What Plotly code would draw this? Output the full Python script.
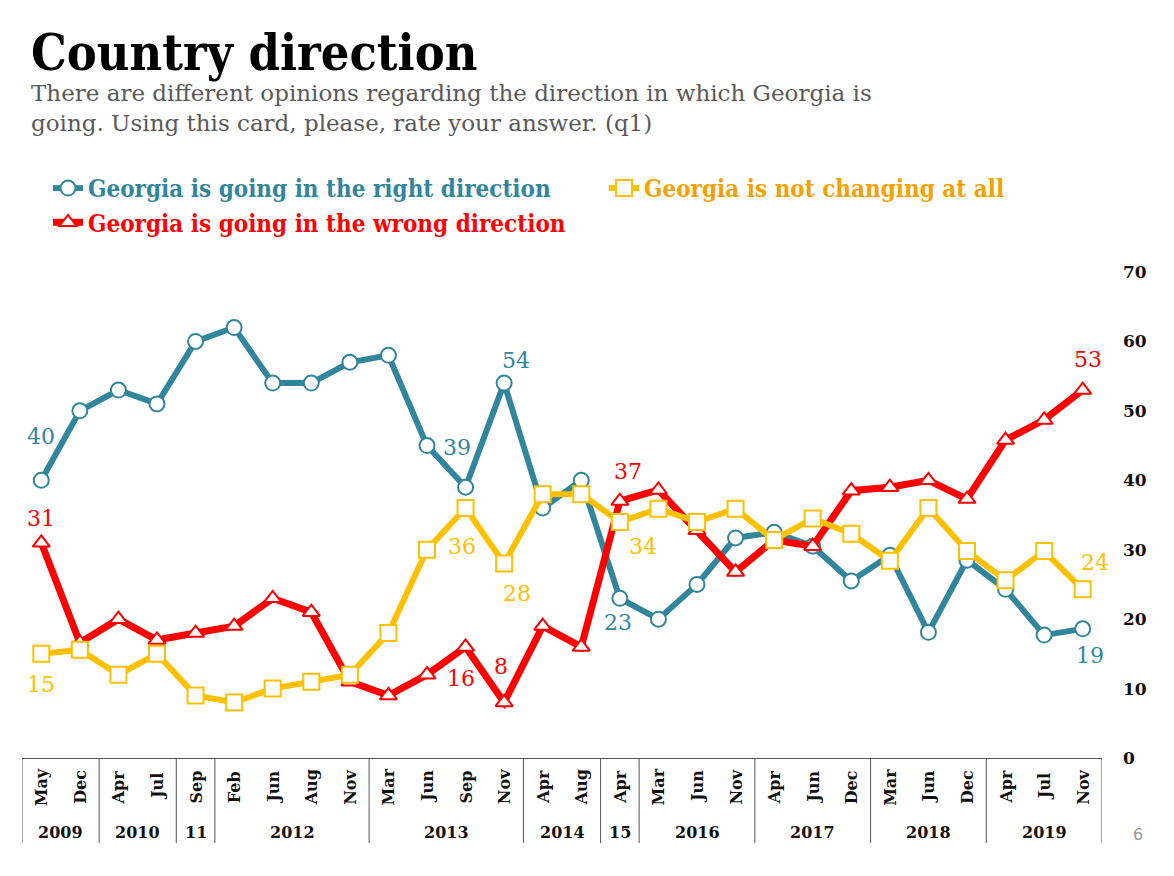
import plotly.graph_objects as go

# ---------------- data ----------------
months = ["May", "Dec", "Apr", "Jul", "Sep", "Feb", "Jun", "Aug", "Nov",
          "Mar", "Jun", "Sep", "Nov", "Apr", "Aug", "Apr", "Mar", "Jun", "Nov",
          "Apr", "Jun", "Dec", "Mar", "Jun", "Dec", "Apr", "Jul", "Nov"]
years = ["2009", "2009", "2010", "2010", "2011", "2012", "2012", "2012", "2012",
         "2013", "2013", "2013", "2013", "2014", "2014", "2015", "2016", "2016", "2016",
         "2017", "2017", "2017", "2018", "2018", "2018", "2019", "2019", "2019"]
year_labels = {"2009": "2009", "2010": "2010", "2011": "11", "2012": "2012",
               "2013": "2013", "2014": "2014", "2015": "15", "2016": "2016",
               "2017": "2017", "2018": "2018", "2019": "2019"}

right_dir = [40, 50, 53, 51, 60, 62, 54, 54, 57, 58, 45, 39, 54, 36, 40, 23, 20, 25,
             31.7, 32.5, 30.5, 25.5, 29.2, 18.1, 28.5, 24.3, 17.7, 18.6]
not_changing = [15, 15.6, 12, 15, 9, 8, 10, 11, 12, 18, 30, 36, 28, 38, 38, 34, 35.9, 34,
                35.9, 31.4, 34.5, 32.3, 28.4, 36, 29.8, 25.6, 29.8, 24.3]
wrong_dir = [31, 16.6, 20, 17, 18, 19, 23, 21, 11, 9, 12, 16, 8, 19, 16, 37, 38.6, 32.8,
             26.8, 31.4, 30.5, 38.5, 39, 40, 37.3, 45.8, 48.7, 53]

series_names = ["Georgia is going in the right direction",
                "Georgia is not changing at all",
                "Georgia is going in the wrong direction"]

# indices of labelled points per series
labelled = {0: [0, 11, 12, 15, 27], 1: [0, 11, 12, 15, 27], 2: [0, 11, 12, 15, 27]}

# ---------------- style ----------------
W, H = 1174, 876
ML, MR, MT, MB = 22, 72, 272, 118
PW, PH = W - ML - MR, H - MT - MB

BLUE = "#31869C"
YELLOW = "#FFC000"
YELLOW_TXT = "#F5A100"
RED = "#FF0000"
SERIF = "DejaVu Serif"
COND = "DejaVu Serif Condensed, DejaVu Serif"

def py(p):  # pixel y -> paper
    return (H - MB - p) / PH

def px(p):  # pixel x -> paper
    return (p - ML) / PW

cats = [f"{m} {y}" for m, y in zip(months, years)]

fig = go.Figure()
styles = [
    dict(color=BLUE, symbol="circle", size=15, lw=6, legend="legend"),
    dict(color=YELLOW, symbol="square", size=16, lw=6, legend="legend2"),
    dict(color=RED, symbol="triangle-up", size=15, lw=7, legend="legend"),
]
data = [right_dir, not_changing, wrong_dir]
order = [0, 2, 1]
for i in order:
    st = styles[i]
    txtcol = {0: BLUE, 1: YELLOW_TXT, 2: RED}[i]
    fig.add_trace(go.Scatter(
        x=cats, y=data[i], mode="lines+markers",
        name=f"<b><span style='color:{txtcol}'>{series_names[i]}</span></b>",
        line=dict(color=st["color"], width=st["lw"]),
        marker=dict(symbol=st["symbol"], size=st["size"], color="white",
                    line=dict(color=st["color"], width=2)),
        legend=st["legend"],
    ))

# data label offsets (pixels) per series/index
offsets = {
    (0, 0): (0, -44), (0, 11): (-9, -40), (0, 12): (12, -23), (0, 15): (-2, 24), (0, 27): (7, 27),
    (1, 0): (0, 31), (1, 11): (-4, 38), (1, 12): (13, 30), (1, 15): (23, 25), (1, 27): (12, -27),
    (2, 0): (0, -24), (2, 11): (-5, 32), (2, 12): (-3, -36), (2, 15): (8, -30), (2, 27): (5, -31),
}
label_cols = {0: BLUE, 1: YELLOW, 2: RED}
annotations = []
for s, idxs in labelled.items():
    for k in idxs:
        dx, dy = offsets[(s, k)]
        annotations.append(dict(
            x=cats[k], y=data[s][k], xref="x", yref="y",
            text=str(round(data[s][k])), showarrow=False,
            xshift=dx, yshift=-dy,
            font=dict(family=SERIF, size=22, color=label_cols[s]),
        ))

# month labels
for c, m in zip(cats, months):
    annotations.append(dict(
        x=c, y=py(787), xref="x", yref="paper", text=f"<b>{m}</b>",
        textangle=-90, showarrow=False, yanchor="middle",
        font=dict(family=SERIF, size=16, color="#111111"),
    ))

# year groups
groups = []
for i, y in enumerate(years):
    if not groups or groups[-1][0] != y:
        groups.append([y, i, i])
    else:
        groups[-1][2] = i
shapes = []
for y, a, b in groups:
    annotations.append(dict(
        x=(a + b) / 2, y=py(832), xref="x", yref="paper",
        text=f"<b>{year_labels[y]}</b>", showarrow=False, yanchor="middle",
        font=dict(family=SERIF, size=16, color="#111111"),
    ))
    shapes.append(dict(type="line", xref="x", yref="paper", x0=a - 0.5, x1=a - 0.5,
                       y0=0, y1=py(843), line=dict(color="#555555", width=1)))
shapes.append(dict(type="line", xref="x", yref="paper", x0=len(cats) - 0.5, x1=len(cats) - 0.5,
                   y0=0, y1=py(843), line=dict(color="#555555", width=1)))

# title, subtitle, page number
annotations += [
    dict(x=px(29), y=py(52), xref="paper", yref="paper", xanchor="left", yanchor="middle",
         text="<b>Country direction</b>", showarrow=False,
         font=dict(family="DejaVu Serif Condensed, DejaVu Serif", size=50, color="black")),
    dict(x=px(29), y=py(108), xref="paper", yref="paper", xanchor="left", yanchor="middle",
         align="left", showarrow=False,
         text="There are different opinions regarding the direction in which Georgia is<br>going. Using this card, please, rate your answer. (q1)",
         font=dict(family=SERIF, size=23, color="#595959")),
    dict(x=px(1145), y=py(846), xref="paper", yref="paper", text="6", showarrow=False,
         font=dict(family="DejaVu Sans", size=16, color="#999999")),
]

fig.update_layout(
    width=W, height=H,
    margin=dict(l=ML, r=MR, t=MT, b=MB),
    paper_bgcolor="white", plot_bgcolor="white",
    showlegend=True,
    legend=dict(x=px(48), y=py(166), xanchor="left", yanchor="top",
                orientation="v", bgcolor="rgba(0,0,0,0)",
                font=dict(family=COND, size=24), tracegroupgap=0, itemwidth=30),
    legend2=dict(x=px(604), y=py(166), xanchor="left", yanchor="top",
                 orientation="v", bgcolor="rgba(0,0,0,0)",
                 font=dict(family=COND, size=24), itemwidth=30),
    xaxis=dict(type="category", range=[-0.5, len(cats) - 0.5], showticklabels=False,
               showgrid=False, zeroline=False, showline=True, linecolor="#555555",
               linewidth=1, ticks=""),
    yaxis=dict(range=[0, 70], side="right", dtick=10, showgrid=False, zeroline=False,
               showline=False, ticks="", ticklabelstandoff=20,
               tickfont=dict(family=SERIF, size=17, color="#111111", weight="bold")),
    annotations=annotations, shapes=shapes,
)

fig.write_html("out.html")
